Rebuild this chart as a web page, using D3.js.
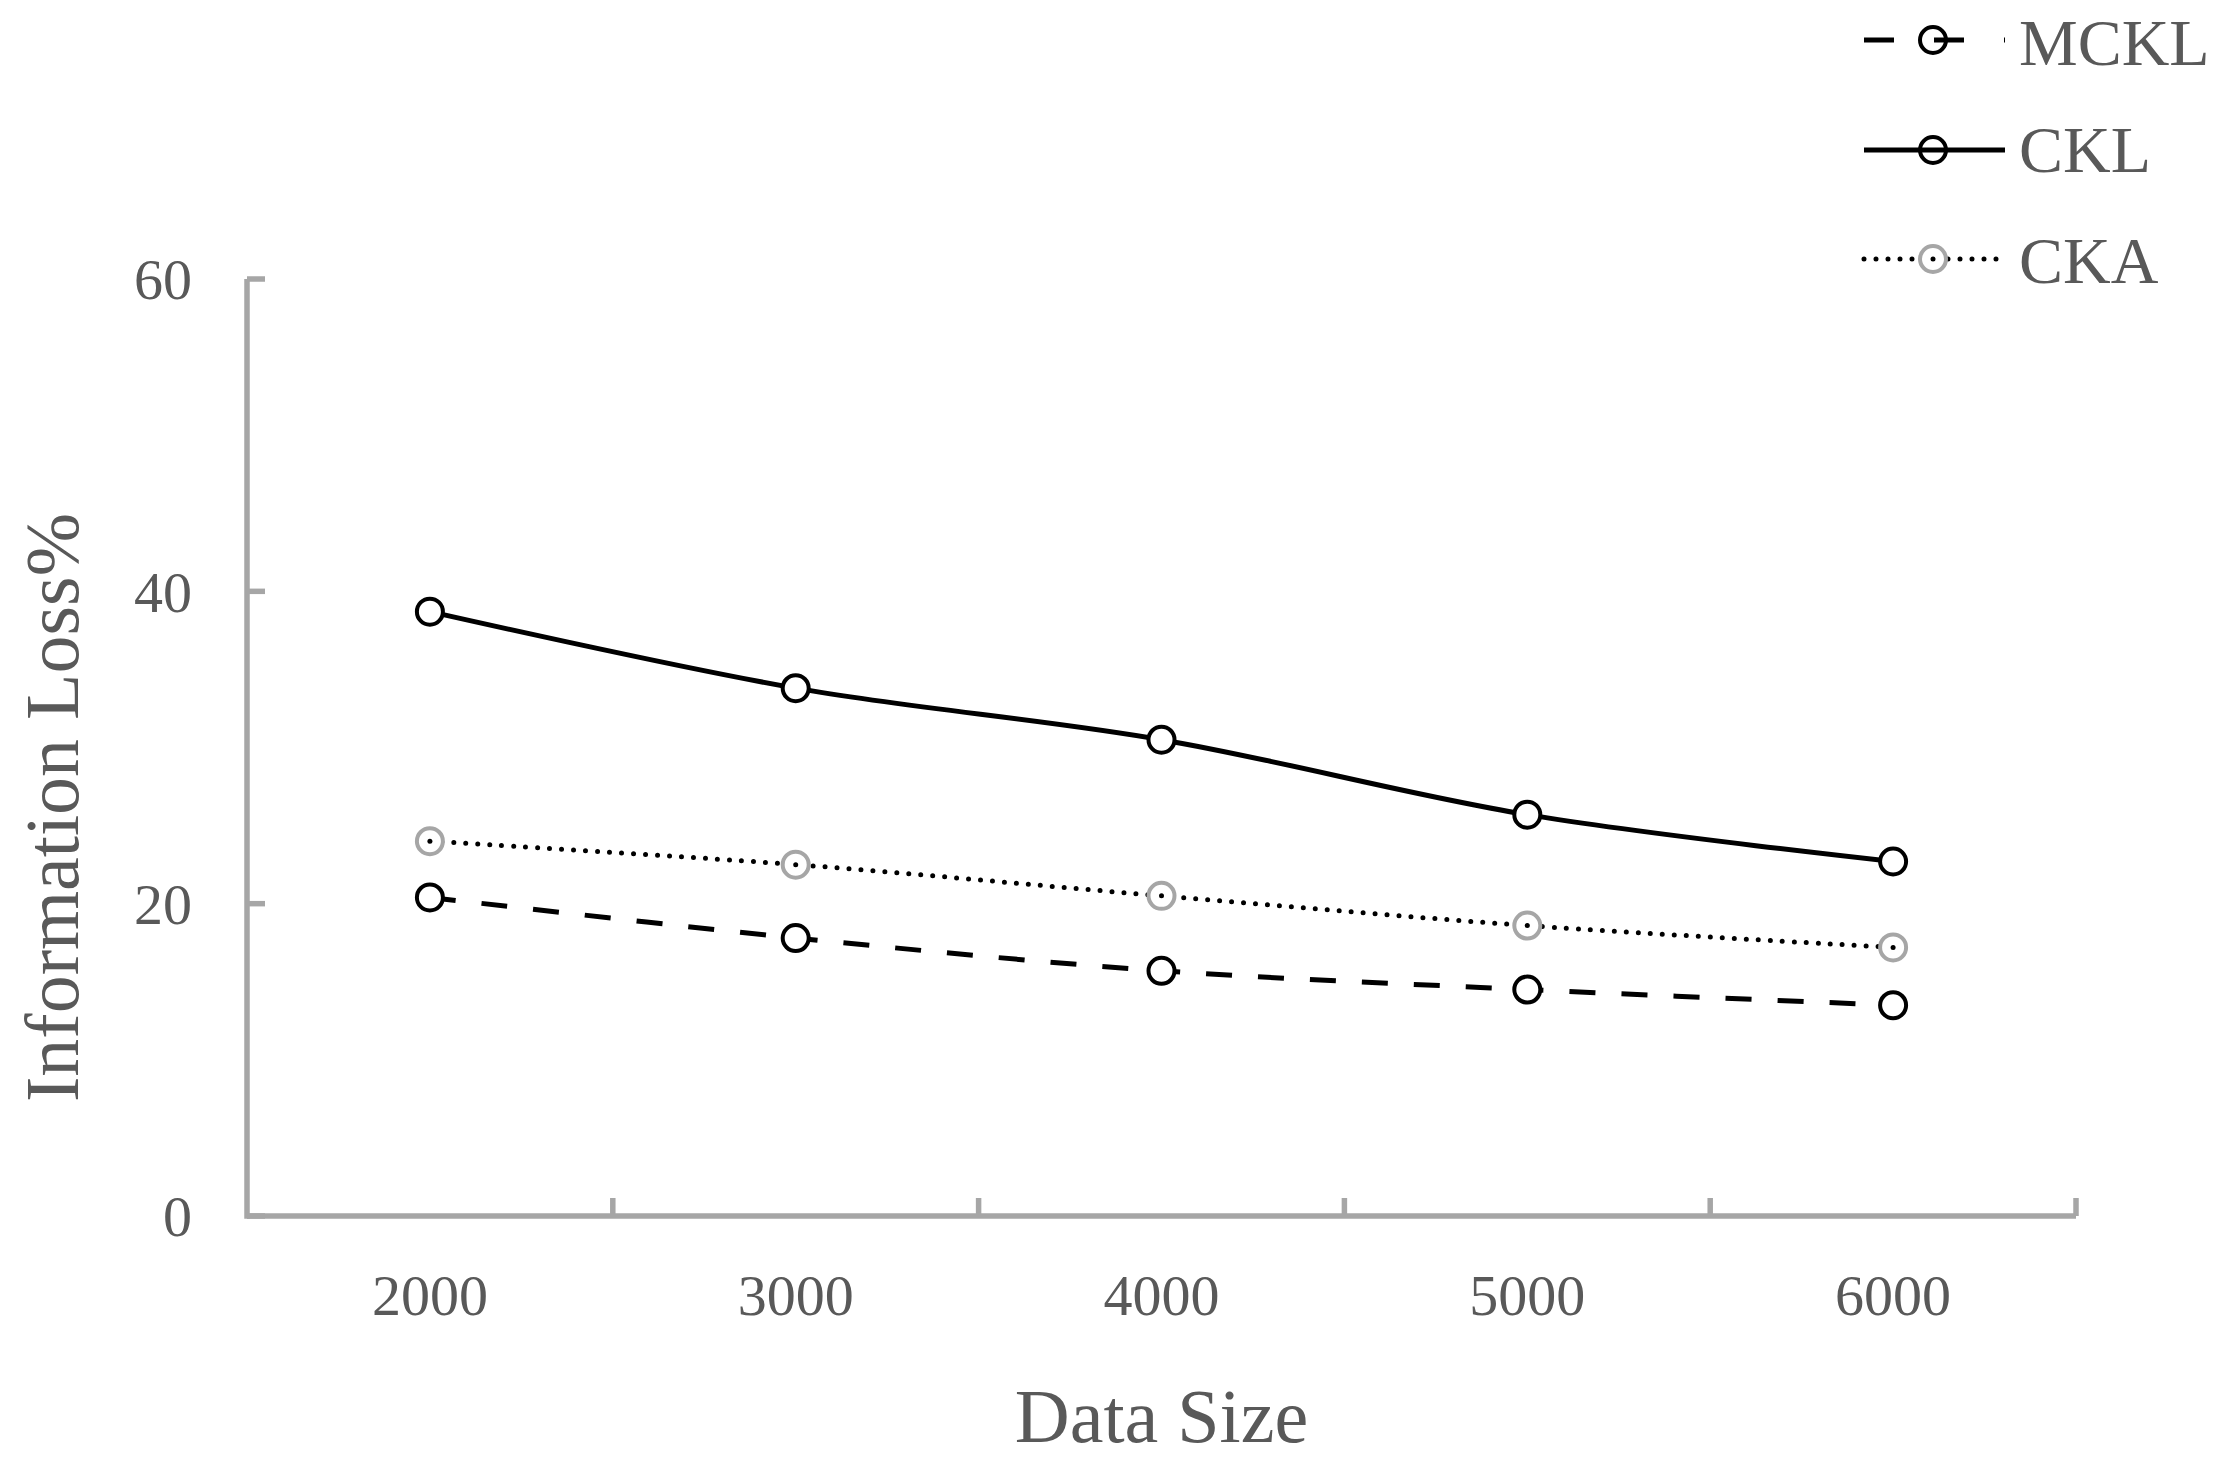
<!DOCTYPE html>
<html><head><meta charset="utf-8">
<script src="https://cdn.jsdelivr.net/npm/d3@7"></script>
<style>body{margin:0;background:#fff}</style>
</head><body><div id="chart"></div>
<script>
const sizes = [2000, 3000, 4000, 5000, 6000];
const mckl = [20.4, 17.8, 15.7, 14.5, 13.5];
const ckl = [38.7, 33.8, 30.5, 25.7, 22.7];
const cka = [24.0, 22.5, 20.5, 18.6, 17.2];
const yTicks = [0, 20, 40, 60];

const W = 2217, H = 1459;
const plotL = 247, plotR = 2076, plotT = 279, plotB = 1216;
const font = '"Liberation Serif", "DejaVu Serif", serif';
const axisCol = '#a6a6a6', textCol = '#595959';

const svg = d3.select('#chart').append('svg').attr('width', W).attr('height', H);

const x = d3.scaleBand().domain(sizes).range([plotL, plotR]);
const y = d3.scaleLinear().domain([0, 60]).range([plotB, plotT]);

// axes
const ax = svg.append('g');
ax.append('line').attr('x1', plotL).attr('x2', plotR).attr('y1', plotB).attr('y2', plotB)
  .attr('stroke', axisCol).attr('stroke-width', 5.5);
ax.append('line').attr('x1', plotL).attr('x2', plotL).attr('y1', plotB + 2.75).attr('y2', plotT)
  .attr('stroke', axisCol).attr('stroke-width', 5.5);
// x tick marks at band boundaries
sizes.forEach(s => {
  const bx = x(s) + x.bandwidth();
  ax.append('line').attr('x1', bx).attr('x2', bx).attr('y1', plotB).attr('y2', plotB - 18)
    .attr('stroke', axisCol).attr('stroke-width', 5.5);
});
yTicks.forEach(t => {
  ax.append('line').attr('x1', plotL).attr('x2', plotL + 18).attr('y1', y(t)).attr('y2', y(t))
    .attr('stroke', axisCol).attr('stroke-width', 5.5);
  ax.append('text').attr('x', 192).attr('y', y(t)).attr('dy', '0.35em').attr('text-anchor', 'end')
    .style('font-family', font).style('font-size', '58px').attr('fill', textCol).text(t);
});
sizes.forEach(s => {
  ax.append('text').attr('x', x(s) + x.bandwidth() / 2).attr('y', 1315).attr('text-anchor', 'middle')
    .style('font-family', font).style('font-size', '58px').attr('fill', textCol).text(s);
});
svg.append('text').attr('x', (plotL + plotR) / 2).attr('y', 1442).attr('text-anchor', 'middle')
  .style('font-family', font).style('font-size', '76px').attr('fill', textCol).text('Data Size');
svg.append('text').attr('transform', `translate(78,${(plotT + plotB) / 2 + 60}) rotate(-90)`).attr('text-anchor', 'middle')
  .style('font-family', font).style('font-size', '76px').attr('fill', textCol).text('Information Loss%');

const series = [
  { name: 'MCKL', values: mckl, dash: '26,26', marker: '#000', dot: false, cap: 'butt', legendY: 40, textY: 65 },
  { name: 'CKL', values: ckl, dash: null, marker: '#000', dot: false, cap: 'butt', legendY: 150, textY: 172 },
  { name: 'CKA', values: cka, dash: '0,12', marker: '#a6a6a6', dot: true, cap: 'round', legendY: 259, textY: 283 }
];

const line = d3.line().x((d, i) => x(sizes[i]) + x.bandwidth() / 2).y(d => y(d)).curve(d3.curveCatmullRom);

series.forEach(s => {
  const g = svg.append('g');
  g.append('path').datum(s.values).attr('d', line).attr('fill', 'none').attr('stroke', '#000')
    .attr('stroke-width', 5).attr('stroke-linecap', s.cap)
    .attr('stroke-dasharray', s.dash);
  g.selectAll('circle').data(s.values).enter().append('circle')
    .attr('cx', (d, i) => x(sizes[i]) + x.bandwidth() / 2).attr('cy', d => y(d)).attr('r', 13)
    .attr('fill', '#fff').attr('stroke', s.marker).attr('stroke-width', 4);
  if (s.dot) g.selectAll('.c').data(s.values).enter().append('circle')
    .attr('cx', (d, i) => x(sizes[i]) + x.bandwidth() / 2).attr('cy', d => y(d)).attr('r', 2.5).attr('fill', '#000');

  // legend
  const lg = svg.append('g');
  lg.append('line').attr('x1', 1864).attr('x2', 2005).attr('y1', s.legendY).attr('y2', s.legendY)
    .attr('stroke', '#000').attr('stroke-width', 5).attr('stroke-linecap', s.cap)
    .attr('stroke-dasharray', s.name === 'MCKL' ? '30,40' : s.dash);
  lg.append('circle').attr('cx', 1933).attr('cy', s.legendY).attr('r', 13)
    .attr('fill', s.name === 'CKA' ? '#fff' : 'none').attr('stroke', s.marker).attr('stroke-width', 4);
  if (s.dot) lg.append('circle').attr('cx', 1933).attr('cy', s.legendY).attr('r', 2.5).attr('fill', '#000');
  lg.append('text').attr('x', 2019).attr('y', s.textY).style('font-family', font).style('font-size', '66px')
    .attr('fill', textCol).text(s.name);
});
</script></body></html>
